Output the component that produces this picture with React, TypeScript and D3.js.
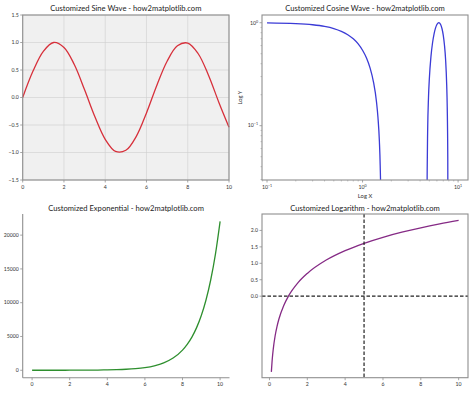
import React from 'react';
import * as d3 from 'd3';

const W = 474;
const H = 395;
const FONT = 'Lato, "Open Sans", sans-serif';
const SPINE = '#8f8f8f';
const INK = '#333333';

// sine panel
const sineX = [0, 0.5, 1, 1.5, 2, 2.5, 3, 3.5, 4, 4.5, 5, 5.5, 6, 6.5, 7, 7.5, 8, 8.5, 9, 9.5, 10];
const sineY = [0, 0.48, 0.84, 1.0, 0.91, 0.6, 0.14, -0.35, -0.76, -0.98, -0.96, -0.71, -0.28, 0.22, 0.66, 0.94, 0.99, 0.8, 0.41, -0.08, -0.54];
const sineXTicks = [0, 2, 4, 6, 8, 10];
const sineYTicks = [-1.5, -1.0, -0.5, 0.0, 0.5, 1.0, 1.5];

// cosine panel (log-log, two visible positive pieces)
const cosX1 = [0.1, 0.2, 0.3, 0.4, 0.5, 0.6, 0.7, 0.8, 0.9, 1.0, 1.1, 1.2, 1.3, 1.4, 1.45, 1.5, 1.53, 1.55, 1.565];
const cosY1 = [0.995, 0.98, 0.955, 0.921, 0.878, 0.825, 0.765, 0.697, 0.622, 0.54, 0.454, 0.362, 0.267, 0.17, 0.12, 0.071, 0.041, 0.021, 0.006];
const cosX2 = [4.716, 4.73, 4.75, 4.8, 4.9, 5.0, 5.2, 5.4, 5.6, 5.8, 6.0, 6.2, 6.3, 6.4, 6.6, 6.8, 7.0, 7.2, 7.4, 7.6, 7.7, 7.8, 7.85];
const cosY2 = [0.004, 0.018, 0.037, 0.087, 0.187, 0.284, 0.469, 0.635, 0.776, 0.886, 0.96, 0.997, 1.0, 0.993, 0.95, 0.869, 0.754, 0.608, 0.439, 0.248, 0.15, 0.049, 0.005];
const cosXTicks = [0.1, 1, 10];
const cosXExp = ['\u22121', '0', '1'];
const cosYTicks = [0.1, 1];
const cosYExp = ['\u22121', '0'];
const cosXMinor = [0.09, 0.2, 0.3, 0.4, 0.5, 0.6, 0.7, 0.8, 0.9, 2, 3, 4, 5, 6, 7, 8, 9];
const cosYMinor = [0.03, 0.04, 0.05, 0.06, 0.07, 0.08, 0.09, 0.2, 0.3, 0.4, 0.5, 0.6, 0.7, 0.8, 0.9];

// exponential panel
const expX = [0, 0.5, 1, 1.5, 2, 2.5, 3, 3.5, 4, 4.5, 5, 5.5, 6, 6.5, 7, 7.5, 8, 8.25, 8.5, 8.75, 9, 9.25, 9.5, 9.75, 10];
const expY = [1, 1.6, 2.7, 4.5, 7.4, 12, 20, 33, 55, 90, 148, 245, 403, 665, 1097, 1808, 2981, 3832, 4915, 6310, 8103, 10405, 13360, 17154, 22026];
const expXTicks = [0, 2, 4, 6, 8, 10];
const expYTicks = [0, 5000, 10000, 15000, 20000];

// logarithm panel
const lnX = [0.1, 0.15, 0.2, 0.3, 0.4, 0.5, 0.75, 1, 1.5, 2, 3, 4, 5, 6, 7, 8, 9, 10];
const lnY = [-2.303, -1.897, -1.609, -1.204, -0.916, -0.693, -0.288, 0, 0.405, 0.693, 1.099, 1.386, 1.609, 1.792, 1.946, 2.079, 2.197, 2.303];
const lnXTicks = [0, 2, 4, 6, 8, 10];
const lnYTicks = [0.0, 0.5, 1.0, 1.5, 2.0];
const lnVLine = 5;
const lnHLine = 0;

const fmt1 = (v: number) => d3.format('.1f')(v).replace('-', '\u2212');

type Box = { l: number; r: number; t: number; b: number };

function Title({ box, text, y }: { box: Box; text: string; y: number }) {
  return (
    <text x={(box.l + box.r) / 2} y={y} textAnchor="middle" fontSize={7.6} fill="#222">
      {text}
    </text>
  );
}

function XTicks({ x, box, ticks, labels, minor }: any) {
  return (
    <g>
      {(minor || []).map((v: number, i: number) => (
        <line key={'m' + i} x1={x(v)} x2={x(v)} y1={box.b} y2={box.b + 1.5} stroke={SPINE} strokeWidth={0.5} />
      ))}
      {ticks.map((v: number, i: number) => (
        <g key={i}>
          <line x1={x(v)} x2={x(v)} y1={box.b} y2={box.b + 2.5} stroke={SPINE} strokeWidth={0.8} />
          <text x={x(v)} y={box.b + 8.5} textAnchor="middle" fontSize={5.2} fill={INK}>
            {labels[i]}
          </text>
        </g>
      ))}
    </g>
  );
}

function YTicks({ y, box, ticks, labels, minor }: any) {
  return (
    <g>
      {(minor || []).map((v: number, i: number) => (
        <line key={'m' + i} x1={box.l - 1.5} x2={box.l} y1={y(v)} y2={y(v)} stroke={SPINE} strokeWidth={0.5} />
      ))}
      {ticks.map((v: number, i: number) => (
        <g key={i}>
          <line x1={box.l - 2.5} x2={box.l} y1={y(v)} y2={y(v)} stroke={SPINE} strokeWidth={0.8} />
          <text x={box.l - 4} y={y(v) + 1.8} textAnchor="end" fontSize={5.2} fill={INK}>
            {labels[i]}
          </text>
        </g>
      ))}
    </g>
  );
}

const Pow = ({ e }: { e: string }) => (
  <>
    10<tspan fontSize={3.6} dy={-2}>{e}</tspan>
  </>
);

function SinePanel() {
  const box: Box = { l: 22.7, r: 229, t: 15, b: 180 };
  const x = d3.scaleLinear().domain([0, 10]).range([box.l, box.r]);
  const y = d3.scaleLinear().domain([-1.5, 1.5]).range([box.b, box.t]);
  const path = d3.line<number>().x((_, i) => x(sineX[i])).y(d => y(d)).curve(d3.curveCatmullRom)(sineY) || '';
  return (
    <g>
      <rect x={box.l} y={box.t} width={box.r - box.l} height={box.b - box.t} fill="#f0f0f0" />
      {sineXTicks.map((v, i) => (
        <line key={'gx' + i} x1={x(v)} x2={x(v)} y1={box.t} y2={box.b} stroke="#cfcfcf" strokeWidth={0.6} />
      ))}
      {sineYTicks.map((v, i) => (
        <line key={'gy' + i} x1={box.l} x2={box.r} y1={y(v)} y2={y(v)} stroke="#cfcfcf" strokeWidth={0.6} />
      ))}
      <path d={path} fill="none" stroke="#d7303b" strokeWidth={1.3} />
      <rect x={box.l} y={box.t} width={box.r - box.l} height={box.b - box.t} fill="none" stroke={SPINE} strokeWidth={1.1} />
      <XTicks x={x} box={box} ticks={sineXTicks} labels={sineXTicks.map(String)} />
      <YTicks y={y} box={box} ticks={sineYTicks} labels={sineYTicks.map(fmt1)} />
      <Title box={box} text="Customized Sine Wave - how2matplotlib.com" y={10.9} />
    </g>
  );
}

function CosinePanel() {
  const box: Box = { l: 262, r: 468, t: 15, b: 180 };
  const x = d3.scaleLog().domain([0.0886, 12.7]).range([box.l, box.r]);
  const y = d3.scaleLog().domain([0.0297, 1.188]).range([box.b, box.t]);
  const mk = (xs: number[], ys: number[]) =>
    d3.line<number>().x((_, i) => x(xs[i])).y(d => y(d)).curve(d3.curveMonotoneX)(ys) || '';
  return (
    <g>
      <defs>
        <clipPath id="cosclip">
          <rect x={box.l} y={box.t} width={box.r - box.l} height={box.b - box.t} />
        </clipPath>
      </defs>
      <g clipPath="url(#cosclip)">
        <path d={mk(cosX1, cosY1)} fill="none" stroke="#3b3bd6" strokeWidth={1.3} />
        <path d={mk(cosX2, cosY2)} fill="none" stroke="#3b3bd6" strokeWidth={1.3} />
      </g>
      <rect x={box.l} y={box.t} width={box.r - box.l} height={box.b - box.t} fill="none" stroke={SPINE} strokeWidth={1.1} />
      <XTicks x={x} box={box} ticks={cosXTicks} labels={cosXExp.map(e => <Pow e={e} />)} minor={cosXMinor} />
      <YTicks y={y} box={box} ticks={cosYTicks} labels={cosYExp.map(e => <Pow e={e} />)} minor={cosYMinor} />
      <text x={(box.l + box.r) / 2} y={198.2} textAnchor="middle" fontSize={5.8} fill={INK}>Log X</text>
      <text transform={`translate(242.3,${(box.t + box.b) / 2}) rotate(-90)`} textAnchor="middle" fontSize={5.8} fill={INK}>Log Y</text>
      <Title box={box} text="Customized Cosine Wave - how2matplotlib.com" y={10.9} />
    </g>
  );
}

function ExpPanel() {
  const box: Box = { l: 22.7, r: 229.5, t: 214, b: 377.7 };
  const x = d3.scaleLinear().domain([-0.5, 10.5]).range([box.l, box.r]);
  const y = d3.scaleLinear().domain([-1100, 23127]).range([box.b, box.t]);
  const path = d3.line<number>().x((_, i) => x(expX[i])).y(d => y(d)).curve(d3.curveMonotoneX)(expY) || '';
  return (
    <g>
      <path d={path} fill="none" stroke="#2e8f2e" strokeWidth={1.3} />
      <line x1={box.l} x2={box.l} y1={box.t} y2={box.b} stroke={SPINE} strokeWidth={1.1} />
      <line x1={box.l} x2={box.r} y1={box.b} y2={box.b} stroke={SPINE} strokeWidth={1.1} />
      <XTicks x={x} box={box} ticks={expXTicks} labels={expXTicks.map(String)} />
      <YTicks y={y} box={box} ticks={expYTicks} labels={expYTicks.map(String)} />
      <Title box={box} text="Customized Exponential - how2matplotlib.com" y={210.7} />
    </g>
  );
}

function LogPanel() {
  const box: Box = { l: 262, r: 468, t: 214, b: 377.7 };
  const x = d3.scaleLinear().domain([-0.395, 10.495]).range([box.l, box.r]);
  const y = d3.scaleLinear().domain([-2.48, 2.5]).range([box.b, box.t]);
  const path = d3.line<number>().x((_, i) => x(lnX[i])).y(d => y(d)).curve(d3.curveMonotoneX)(lnY) || '';
  return (
    <g>
      <path d={path} fill="none" stroke="#852a85" strokeWidth={1.3} />
      <line x1={x(lnVLine)} x2={x(lnVLine)} y1={box.t} y2={box.b} stroke="#222" strokeWidth={1.2} strokeDasharray="3.5,2" />
      <line x1={box.l} x2={box.r} y1={y(lnHLine)} y2={y(lnHLine)} stroke="#222" strokeWidth={1.2} strokeDasharray="3.5,2" />
      <rect x={box.l} y={box.t} width={box.r - box.l} height={box.b - box.t} fill="none" stroke={SPINE} strokeWidth={1.1} />
      <XTicks x={x} box={box} ticks={lnXTicks} labels={lnXTicks.map(String)} />
      <YTicks y={y} box={box} ticks={lnYTicks} labels={lnYTicks.map(fmt1)} />
      <Title box={box} text="Customized Logarithm - how2matplotlib.com" y={210.7} />
    </g>
  );
}

export default function App() {
  return (
    <div style={{ position: 'absolute', left: 0, top: 0 }}>
      <svg width={W} height={H} fontFamily={FONT} style={{ display: 'block', background: '#fff' }}>
        <SinePanel />
        <CosinePanel />
        <ExpPanel />
        <LogPanel />
      </svg>
    </div>
  );
}
